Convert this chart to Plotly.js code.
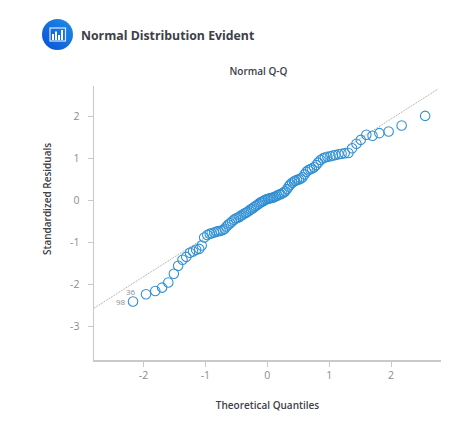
<!DOCTYPE html>
<html><head><meta charset="utf-8">
<script src="https://cdn.plot.ly/plotly-3.0.1.min.js"></script>
<style>html,body{margin:0;padding:0;background:#fff;width:474px;height:427px;overflow:hidden}
#c{position:absolute;left:0;top:0;width:474px;height:427px}
#i{position:absolute;left:42px;top:19px;width:31px;height:31px;z-index:5}</style></head>
<body><div id="c"></div>
<svg id="i" viewBox="0 0 31 31"><defs><linearGradient id="g" x1="0" y1="1" x2="1" y2="0"><stop offset="0" stop-color="#0a4fd6"/><stop offset="1" stop-color="#1f8fe8"/></linearGradient></defs>
<circle cx="15.5" cy="15.5" r="15.5" fill="url(#g)"/>
<rect x="8" y="9" width="15.5" height="13" fill="none" stroke="#dceafc" stroke-width="1.2"/>
<rect x="10" y="15" width="2" height="6" fill="#fff"/><rect x="13" y="12.5" width="2" height="8.5" fill="#fff"/><rect x="16" y="16" width="2" height="5" fill="#fff"/><rect x="19" y="11" width="2" height="10" fill="#fff"/></svg>
<script>
const quantiles=[-2.17,-1.96,-1.81,-1.70,-1.60,-1.51,-1.44,-1.37,-1.31,-1.25,-1.20,-1.15,-1.10,-1.06,-1.02,-0.97,-0.93,-0.90,-0.86,-0.82,-0.79,-0.755,-0.72,-0.69,-0.66,-0.63,-0.60,-0.57,-0.54,-0.51,-0.48,-0.45,-0.43,-0.40,-0.37,-0.345,-0.32,-0.29,-0.266,-0.24,-0.215,-0.19,-0.164,-0.138,-0.113,-0.088,-0.063,-0.038,-0.0125,0.0125,0.038,0.063,0.088,0.113,0.138,0.164,0.19,0.215,0.24,0.266,0.29,0.32,0.345,0.37,0.40,0.43,0.45,0.48,0.51,0.54,0.57,0.60,0.63,0.66,0.69,0.72,0.755,0.79,0.82,0.86,0.90,0.93,0.97,1.02,1.06,1.10,1.15,1.20,1.25,1.31,1.37,1.44,1.51,1.60,1.70,1.81,1.96,2.17,2.55];
const residuals=[-2.40,-2.23,-2.15,-2.07,-1.95,-1.74,-1.55,-1.41,-1.34,-1.24,-1.21,-1.17,-1.15,-1.07,-0.88,-0.82,-0.79,-0.78,-0.76,-0.74,-0.73,-0.72,-0.70,-0.67,-0.62,-0.57,-0.54,-0.50,-0.46,-0.43,-0.41,-0.39,-0.36,-0.34,-0.31,-0.29,-0.27,-0.24,-0.21,-0.19,-0.16,-0.13,-0.11,-0.08,-0.05,-0.03,-0.01,0.01,0.03,0.04,0.05,0.06,0.07,0.08,0.10,0.12,0.14,0.15,0.17,0.19,0.22,0.27,0.33,0.38,0.42,0.45,0.47,0.49,0.50,0.52,0.55,0.62,0.68,0.72,0.74,0.76,0.79,0.84,0.90,0.96,1.00,1.02,1.04,1.05,1.07,1.08,1.10,1.11,1.12,1.13,1.24,1.35,1.44,1.56,1.54,1.60,1.64,1.78,2.01];
const refLineX=[-2.8,2.76];
const refLineY=[-2.56,2.65];
const yTickVals=[-3,-2,-1,0,1,2];
const yTickText=['-3','-2','-1','0','1','2'];
const xTickVals=[-2,-1,0,1,2];
const xTickText=['-2','-1','0','1','2'];
const ink='#8c8c8c', axis='#c9c9c9', dark='#3d4048', blue='#2f8fd3';
const F='"Open Sans", sans-serif';
const bold={family:F,size:10,color:dark,weight:600};
Plotly.newPlot('c',[
 {x:refLineX,y:refLineY,mode:'lines',line:{color:'#a0a0a0',width:1,dash:'1px,1px'},hoverinfo:'skip'},
 {x:quantiles,y:residuals,mode:'markers',marker:{symbol:'circle-open',size:9.5,color:blue,line:{width:1.05,color:blue}},hoverinfo:'skip'}
],{
 width:474,height:427,showlegend:false,paper_bgcolor:'#fff',plot_bgcolor:'#fff',
 margin:{l:93.5,r:33,t:86,b:67,pad:0},
 title:{text:'Normal Q-Q',font:bold,x:258.5/474,xanchor:'center',y:1-71/427,yanchor:'middle'},
 xaxis:{range:[-2.8,2.806],tickvals:xTickVals,ticktext:xTickText,ticks:'outside',ticklen:5,tickcolor:axis,tickwidth:1,showgrid:false,zeroline:false,showline:true,linecolor:axis,linewidth:1.5,tickfont:{family:F,size:10.5,color:ink},
   title:{text:'Theoretical Quantiles',font:bold,standoff:21}},
 yaxis:{range:[-3.79,2.72],tickvals:yTickVals,ticktext:yTickText,ticks:'outside',ticklen:5,ticklabelstandoff:6,tickcolor:axis,tickwidth:1,showgrid:false,zeroline:false,showline:true,linecolor:axis,linewidth:1.5,tickfont:{family:F,size:10.5,color:ink}},
 annotations:[
  {xref:'paper',yref:'paper',x:(78-93.5)/347.5,y:1+(86-35.5)/274,xanchor:'left',yanchor:'middle',showarrow:false,text:'Normal Distribution Evident',font:{family:F,size:12.3,color:dark,weight:700}},
  {xref:'paper',yref:'paper',x:(46-93.5)/347.5,y:(360-199.5)/274,xanchor:'center',yanchor:'middle',textangle:-90,showarrow:false,text:'Standardized Residuals',font:bold},
  {xref:'x',yref:'y',x:-2.2,y:-2.17,text:'36',showarrow:false,font:{family:F,size:8,color:ink}},
  {xref:'x',yref:'y',x:-2.37,y:-2.39,text:'98',showarrow:false,font:{family:F,size:8,color:ink}}
 ]
},{staticPlot:true,displayModeBar:false});
</script></body></html>
